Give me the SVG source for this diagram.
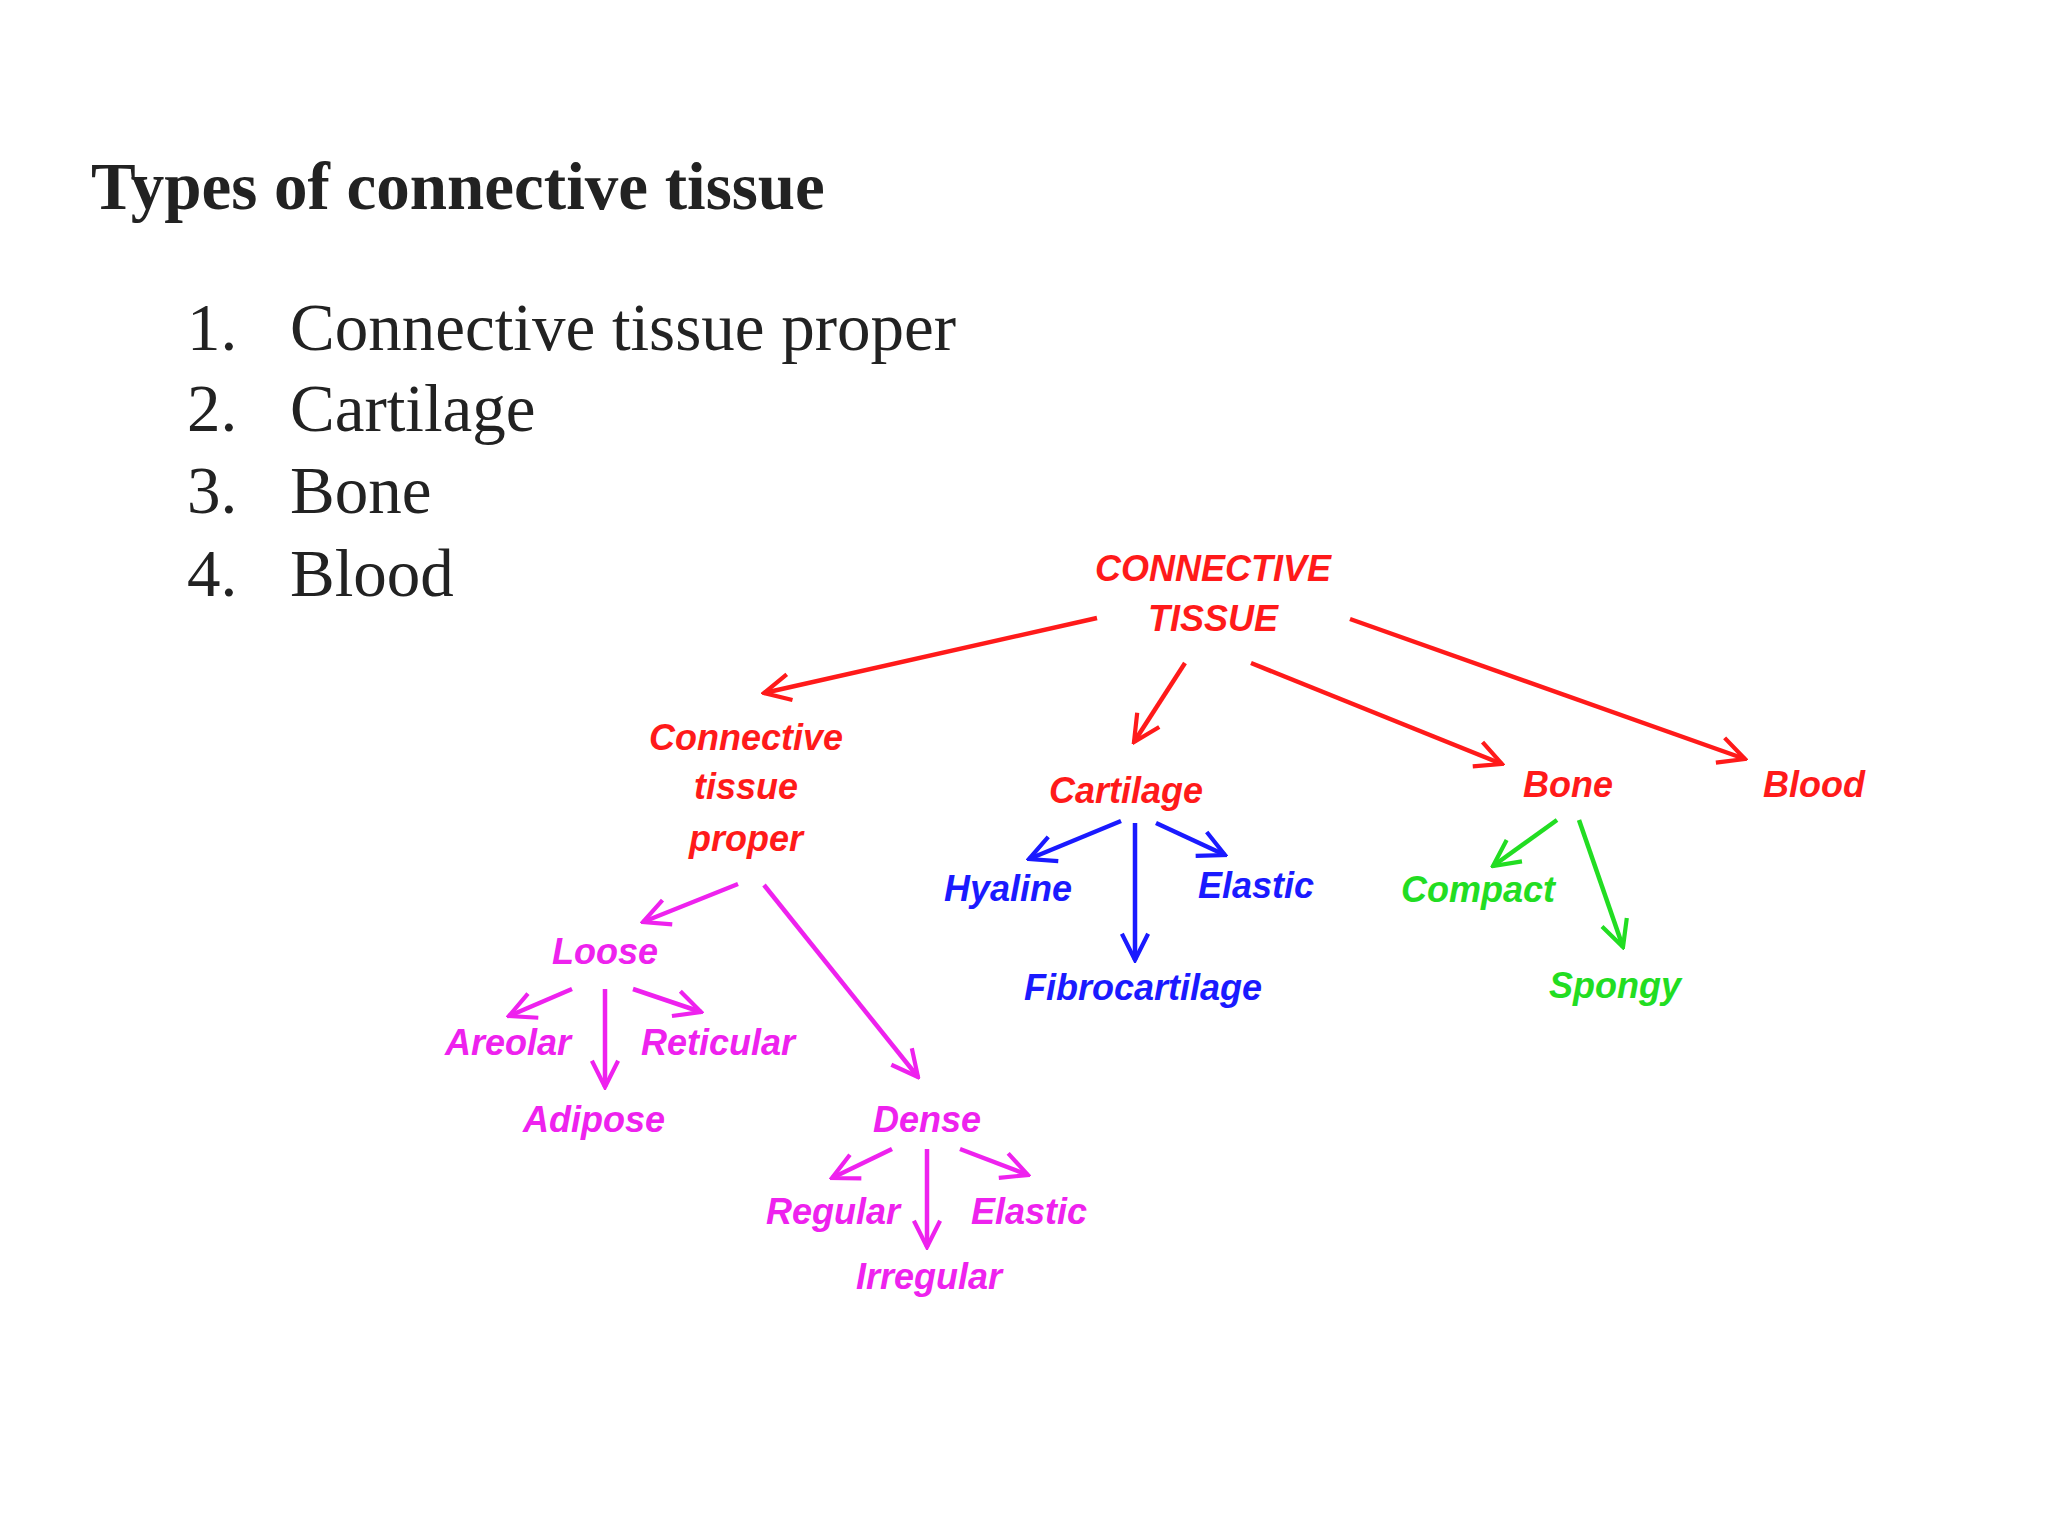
<svg xmlns="http://www.w3.org/2000/svg" width="2048" height="1536" viewBox="0 0 2048 1536">
<style>
.t{font-family:"Liberation Serif",serif;fill:#222}
.n{font-family:"Liberation Sans",Arial,sans-serif;font-weight:bold;font-style:italic;font-size:36px;text-anchor:middle}
.r{fill:#ff1a1a}.b{fill:#1a1aff}.g{fill:#22dd22}.m{fill:#ee22ee}
line{stroke-width:4.5;fill:none}
</style>
<defs>
<marker id="ar" viewBox="0 0 12 12" refX="11" refY="6" markerWidth="7" markerHeight="7" orient="auto" markerUnits="strokeWidth"><path d="M1,1 L11,6 L1,11" fill="none" stroke="#ff1a1a" stroke-width="1.6"/></marker>
<marker id="ab" viewBox="0 0 12 12" refX="11" refY="6" markerWidth="7" markerHeight="7" orient="auto" markerUnits="strokeWidth"><path d="M1,1 L11,6 L1,11" fill="none" stroke="#1a1aff" stroke-width="1.6"/></marker>
<marker id="ag" viewBox="0 0 12 12" refX="11" refY="6" markerWidth="7" markerHeight="7" orient="auto" markerUnits="strokeWidth"><path d="M1,1 L11,6 L1,11" fill="none" stroke="#22dd22" stroke-width="1.6"/></marker>
<marker id="am" viewBox="0 0 12 12" refX="11" refY="6" markerWidth="7" markerHeight="7" orient="auto" markerUnits="strokeWidth"><path d="M1,1 L11,6 L1,11" fill="none" stroke="#ee22ee" stroke-width="1.6"/></marker>
</defs>
<rect width="2048" height="1536" fill="#fff"/>
<text class="t" x="91" y="209" font-size="67" font-weight="bold">Types of connective tissue</text>
<g class="t" font-size="67">
<text x="187" y="350">1.</text><text x="290" y="350">Connective tissue proper</text>
<text x="187" y="431">2.</text><text x="290" y="431">Cartilage</text>
<text x="187" y="513">3.</text><text x="290" y="513">Bone</text>
<text x="187" y="596">4.</text><text x="290" y="596">Blood</text>
</g>
<g id="connectors">
<g stroke="#ff1a1a">
<line x1="1097" y1="618" x2="764" y2="693" marker-end="url(#ar)"/>
<line x1="1185" y1="663" x2="1134" y2="742" marker-end="url(#ar)"/>
<line x1="1251" y1="663" x2="1502" y2="764" marker-end="url(#ar)"/>
<line x1="1350" y1="619" x2="1745" y2="759" marker-end="url(#ar)"/>
</g>
<g stroke="#1a1aff">
<line x1="1121" y1="821" x2="1029" y2="859" marker-end="url(#ab)"/>
<line x1="1135" y1="823" x2="1135" y2="960" marker-end="url(#ab)"/>
<line x1="1156" y1="823" x2="1225" y2="855" marker-end="url(#ab)"/>
</g>
<g stroke="#22dd22">
<line x1="1557" y1="820" x2="1493" y2="866" marker-end="url(#ag)"/>
<line x1="1579" y1="820" x2="1623" y2="947" marker-end="url(#ag)"/>
</g>
<g stroke="#ee22ee">
<line x1="738" y1="884" x2="643" y2="922" marker-end="url(#am)"/>
<line x1="764" y1="885" x2="918" y2="1077" marker-end="url(#am)"/>
<line x1="572" y1="989" x2="509" y2="1016" marker-end="url(#am)"/>
<line x1="605" y1="989" x2="605" y2="1087" marker-end="url(#am)"/>
<line x1="633" y1="989" x2="701" y2="1012" marker-end="url(#am)"/>
<line x1="892" y1="1149" x2="832" y2="1178" marker-end="url(#am)"/>
<line x1="927" y1="1149" x2="927" y2="1247" marker-end="url(#am)"/>
<line x1="960" y1="1149" x2="1028" y2="1175" marker-end="url(#am)"/>
</g>
</g>
<g id="ct" class="n r"><text x="1213" y="581">CONNECTIVE</text><text x="1213" y="631">TISSUE</text></g>
<g id="ctp" class="n r"><text x="746" y="750">Connective</text><text x="746" y="799">tissue</text><text x="746" y="851">proper</text></g>
<g id="cart" class="n r"><text x="1126" y="803">Cartilage</text></g>
<g id="bone" class="n r"><text x="1568" y="797">Bone</text></g>
<g id="blood" class="n r"><text x="1814" y="797">Blood</text></g>
<g id="hyaline" class="n b"><text x="1008" y="901">Hyaline</text></g>
<g id="elastic1" class="n b"><text x="1256" y="898">Elastic</text></g>
<g id="fibro" class="n b"><text x="1143" y="1000">Fibrocartilage</text></g>
<g id="compact" class="n g"><text x="1478" y="902">Compact</text></g>
<g id="spongy" class="n g"><text x="1615" y="998">Spongy</text></g>
<g id="loose" class="n m"><text x="605" y="964">Loose</text></g>
<g id="areolar" class="n m"><text x="508" y="1055">Areolar</text></g>
<g id="reticular" class="n m"><text x="718" y="1055">Reticular</text></g>
<g id="adipose" class="n m"><text x="594" y="1132">Adipose</text></g>
<g id="dense" class="n m"><text x="927" y="1132">Dense</text></g>
<g id="regular" class="n m"><text x="833" y="1224">Regular</text></g>
<g id="elastic2" class="n m"><text x="1029" y="1224">Elastic</text></g>
<g id="irregular" class="n m"><text x="929" y="1289">Irregular</text></g>
</svg>
